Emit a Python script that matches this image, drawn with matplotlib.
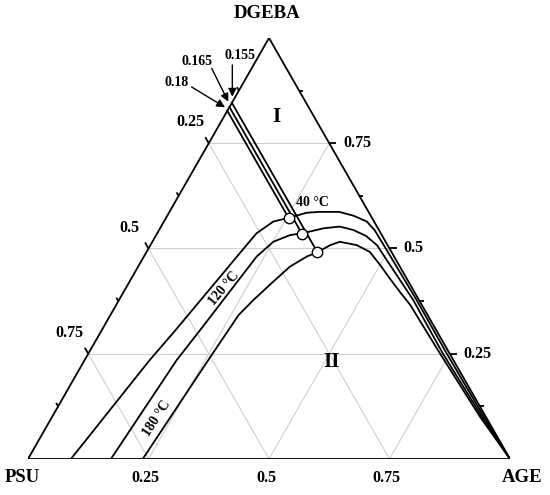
import numpy as np
import matplotlib.pyplot as plt

plt.rcParams['font.family'] = ['Liberation Serif', 'DejaVu Serif']
plt.rcParams['font.weight'] = 'bold'

# compositions: AGE and DGEBA mass fractions (PSU = 1 - AGE - DGEBA)
age_40 = [0.089, 0.135, 0.153, 0.195, 0.206, 0.227, 0.255, 0.286, 0.312, 0.352, 0.386,
          0.421, 0.448, 0.482, 0.615, 0.744, 0.896, 1.0]
dgeba_40 = [0.000, 0.235, 0.306, 0.489, 0.536, 0.564, 0.573, 0.585, 0.587, 0.587, 0.578,
            0.564, 0.543, 0.510, 0.380, 0.250, 0.100, 0.0]

age_120 = [0.172, 0.191, 0.204, 0.225, 0.234, 0.251, 0.278, 0.301, 0.339, 0.371, 0.403,
           0.436, 0.470, 0.500, 0.610, 0.736, 0.892, 1.0]
dgeba_120 = [0.000, 0.235, 0.306, 0.429, 0.481, 0.516, 0.532, 0.536, 0.548, 0.552, 0.544,
             0.530, 0.508, 0.480, 0.378, 0.250, 0.100, 0.0]

age_180 = [0.238, 0.2565, 0.260, 0.266, 0.279, 0.298, 0.315, 0.338, 0.355, 0.373, 0.389,
           0.428, 0.463, 0.500, 0.536, 0.573, 0.610, 0.729, 0.888, 1.0]
dgeba_180 = [0.000, 0.235, 0.275, 0.342, 0.378, 0.421, 0.457, 0.481, 0.491, 0.508, 0.516,
             0.508, 0.492, 0.461, 0.429, 0.397, 0.366, 0.251, 0.100, 0.0]

# straight lines of constant PSU content, ending at the marked points
line_psu = [0.173, 0.164, 0.154]
line_labels = ['0.18', '0.165', '0.155']
point_age = [0.255, 0.301, 0.355]

tick_major = [0.25, 0.5, 0.75]
tick_minor = [0.125, 0.375, 0.625, 0.875]
tick_labels = ['0.25', '0.5', '0.75']


def tern(age, dgeba):
    age = np.asarray(age, dtype=float)
    dgeba = np.asarray(dgeba, dtype=float)
    return age + dgeba / 2, dgeba


fig = plt.figure(figsize=(5.5, 4.95), dpi=100)
ax = fig.add_axes([28 / 550, 36 / 495, 482 / 550, 421 / 495])
ax.set_xlim(0, 1)
ax.set_ylim(0, 1)
ax.axis('off')

grid_kw = dict(color='#cfcfcf', lw=0.8, zorder=1)
for v in tick_major:
    ax.plot(*tern([0, 1 - v], [v, v]), **grid_kw)          # DGEBA const
    ax.plot(*tern([v, v], [0, 1 - v]), **grid_kw)          # AGE const
    ax.plot(*tern([1 - v, 0], [0, 1 - v]), **grid_kw)      # PSU const

# triangle frame, each side running a little past its end corner
frame_kw = dict(color='black', lw=1.3, zorder=2, solid_capstyle='butt')
ax.plot([0, 1.018], [0, 0], **frame_kw)
ax.plot([1, 0.5 - 0.0075], [0, 1.015], **frame_kw)
ax.plot([0.5, -0.005], [1, -0.01], **frame_kw)

# ticks
major_len, minor_len = 7 / 485, 4 / 485
for vals, ln in ((tick_major, major_len), (tick_minor, minor_len)):
    for v in vals:
        # left axis (PSU), ticks parallel to the right side, pointing outward
        x0, y0 = tern(0, 1 - v)
        ax.plot([x0, x0 - 0.5 * ln], [y0, y0 + ln], **frame_kw)
        # bottom axis (AGE), ticks parallel to the left side
        x0, y0 = tern(v, 0)
        ax.plot([x0, x0 - 0.5 * ln], [y0, y0 - ln], **frame_kw)
        # right axis (DGEBA), horizontal ticks
        x0, y0 = tern(1 - v, v)
        ax.plot([x0, x0 + ln * 485 / 482], [y0, y0], **frame_kw)

lab_kw = dict(fontsize=11.5, fontweight='bold', textcoords='offset points')
for v, lab in zip(tick_major, tick_labels):
    ax.annotate(lab, tern(0, 1 - v), xytext=(-13.5, 15), ha='center', va='center', **lab_kw)
    ax.annotate(lab, tern(v, 0), xytext=(-2, -13.5), ha='center', va='center', **lab_kw)
    ax.annotate(lab, tern(1 - v, v), xytext=(10, 0), ha='left', va='center', **lab_kw)

ax.text(0.4952, 1.0587, 'DGEBA', fontsize=13.5, fontweight='bold', ha='center', va='center')
ax.text(-0.0124, -0.0439, 'PSU', fontsize=13.5, fontweight='bold', ha='center', va='center')
ax.text(1.026, -0.0451, 'AGE', fontsize=13.5, fontweight='bold', ha='center', va='center')

# phase boundaries
curve_kw = dict(color='black', lw=1.3, zorder=3, solid_joinstyle='round')
ax.plot(*tern(age_40, dgeba_40), **curve_kw)
ax.plot(*tern(age_120, dgeba_120), **curve_kw)
ax.plot(*tern(age_180, dgeba_180), **curve_kw)

# constant-PSU lines from the PSU-DGEBA side to the marked points
for p, a in zip(line_psu, point_age):
    ax.plot(*tern([0, a], [1 - p, 1 - p - a]), **curve_kw)
px, py = tern(point_age, 1 - np.array(line_psu) - np.array(point_age))
ax.plot(px, py, 'o', ms=7.5, mfc='white', mec='black', mew=1.0, zorder=4)

# labels with arrows for the line compositions
arrow_kw = dict(arrowstyle='-|>', color='black', lw=1.0, mutation_scale=12,
                shrinkA=0, shrinkB=0)
ax.annotate('', xy=(0.4239, 0.8606), xytext=(0.4239, 0.9359), arrowprops=arrow_kw)
ax.annotate('', xy=(0.4156, 0.8487), xytext=(0.3811, 0.9280), arrowprops=arrow_kw)
ax.annotate('', xy=(0.4087, 0.8354), xytext=(0.3396, 0.8836), arrowprops=arrow_kw)
small = dict(fontsize=10, fontweight='bold', ha='center', va='center')
ax.text(0.4398, 0.9596, line_labels[2], **small)
ax.text(0.3516, 0.9437, line_labels[1], **small)
ax.text(0.3085, 0.8943, line_labels[0], **small)

ax.text(0.5898, 0.6088, '40 °C', **small)
ax.text(0.4077, 0.405, '120 °C', rotation=50, **small)
ax.text(0.267, 0.0967, '180 °C', rotation=57, **small)

ax.text(0.516, 0.813, 'I', fontsize=15.5, fontweight='bold', ha='center', va='center')
ax.text(0.6299, 0.2311, 'II', fontsize=15.5, fontweight='bold', ha='center', va='center')

fig.savefig('out.png', dpi=100)
